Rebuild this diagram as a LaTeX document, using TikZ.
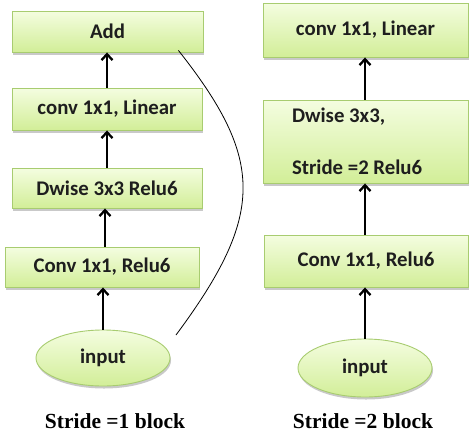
\documentclass[tikz,border=0pt]{standalone}
\usepackage{fontspec}
\setmainfont{Carlito}
\newfontfamily\labfont{Liberation Serif}
\usetikzlibrary{arrows.meta,shapes.geometric,shadows,calc}
\definecolor{gtop}{HTML}{F4FDE0}
\definecolor{gbot}{HTML}{D2EE98}
\definecolor{gline}{HTML}{A8CC70}
\definecolor{txt}{HTML}{1E1E1E}
\tikzset{
  blk/.style={rectangle, draw=gline, line width=0.9pt, top color=gtop, bottom color=gbot,
    drop shadow={shadow xshift=1pt, shadow yshift=-2.5pt, opacity=0.35, fill=black!60},
    font=\bfseries\fontsize{20.8}{26}\selectfont, text=txt, inner sep=0pt},
  inp/.style={ellipse, draw=gline, line width=0.9pt, top color=gtop, bottom color=gbot,
    drop shadow={shadow xshift=1pt, shadow yshift=-2.5pt, opacity=0.35, fill=black!60},
    font=\bfseries\fontsize{20.8}{26}\selectfont, text=txt, inner sep=0pt},
  arr/.style={line width=2.3pt, -{Straight Barb[length=6pt, width=11pt, line width=2.3pt]}},
  skip/.style={line width=0.8pt, black},
  lab/.style={font=\labfont\bfseries\fontsize{21.5}{26}\selectfont, anchor=base, inner sep=0pt}
}
\begin{document}
\begin{tikzpicture}[x=1pt, y=-1pt]
\useasboundingbox[fill=white] (0,0) rectangle (474,432);
% left column
\node[blk, minimum width=191pt, minimum height=41pt] (add) at (107.5,31.5) {Add};
\node[blk, minimum width=190pt, minimum height=42pt] (lin) at (107,109) {conv 1x1, Linear};
\node[blk, minimum width=190pt, minimum height=40pt] (dw) at (107,188) {Dwise 3x3 Relu6};
\node[blk, minimum width=194pt, minimum height=40pt] (ex) at (102,267) {Conv 1x1, Relu6};
\node[inp, minimum width=134pt, minimum height=56pt] (in1) at (103,358) {input};
\draw[arr] (lin.north) -- (lin.north |- add.south);
\draw[arr] (dw.north) -- (dw.north |- lin.south);
\draw[arr] ([xshift=3pt]ex.north) -- ([xshift=-2pt]dw.south);
\draw[arr] (in1.north) -- (in1.north |- ex.south);
\coordinate (sk1) at ($(add.south east)+(-25,-2)$);
\coordinate (sk2) at (176,335);
\draw[skip] (sk1) .. controls (265,160) and (265,215) .. (sk2);
\node[lab] (lab1) at (115,428) {Stride =1 block};
% right column
\node[blk, minimum width=205pt, minimum height=54pt] (rlin) at (365.5,30) {conv 1x1, Linear};
\node[blk, minimum height=83pt, inner xsep=29pt, text width=147pt, align=flush left] (rdw) at (365.5,141.5) {Dwise 3x3,\\[26pt]Stride =2 Relu6};
\node[blk, minimum width=204pt, minimum height=52pt] (rex) at (366,261) {Conv 1x1, Relu6};
\node[inp, minimum width=134pt, minimum height=58pt] (in2) at (365,368) {input};
\draw[arr] (rdw.north -| in2.north) -- (in2.north |- rlin.south);
\draw[arr] (rex.north -| in2.north) -- (in2.north |- rdw.south);
\draw[arr] (in2.north) -- (in2.north |- rex.south);
\node[lab] (lab2) at (363,428) {Stride =2 block};
\end{tikzpicture}
\end{document}
